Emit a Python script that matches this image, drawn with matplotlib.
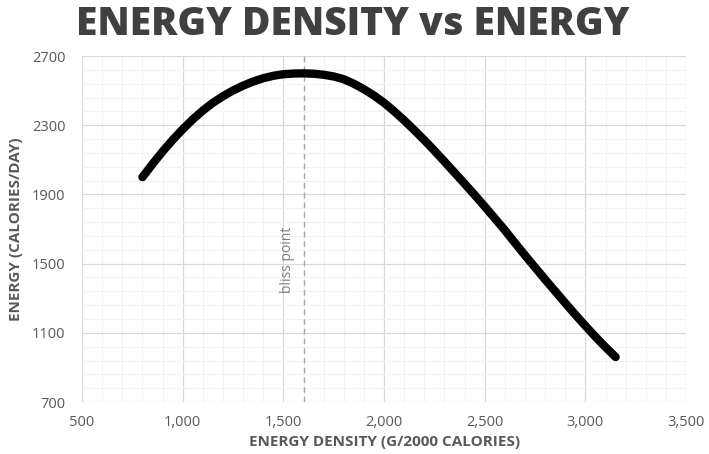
import numpy as np
import matplotlib.pyplot as plt
from matplotlib.ticker import MultipleLocator, FuncFormatter

# values
density = [800, 850, 900, 950, 1000, 1050, 1100, 1150, 1200, 1250, 1300, 1350,
           1400, 1450, 1500, 1550, 1600, 1650, 1700, 1750, 1800, 1850, 1900, 1950,
           2000, 2050, 2100, 2150, 2200, 2250, 2300, 2350, 2400, 2450, 2500, 2550,
           2600, 2650, 2700, 2750, 2800, 2850, 2900, 2950, 3000, 3050, 3100, 3150]
energy = [2000, 2076, 2148, 2215, 2277, 2334, 2385, 2430, 2468, 2501, 2529, 2553,
          2572, 2586, 2595, 2599, 2600, 2598, 2592, 2582, 2566, 2540, 2508, 2472,
          2430, 2381, 2328, 2272, 2214, 2153, 2090, 2026, 1962, 1897, 1830, 1762,
          1693, 1620, 1548, 1478, 1408, 1340, 1272, 1205, 1140, 1077, 1017, 960]
bliss_x = 1600
bliss_label = 'bliss point'
y_ticks = [700, 1100, 1500, 1900, 2300, 2700]

txt = '#595959'
plt.rcParams['font.family'] = ['Open Sans', 'DejaVu Sans']

fig = plt.figure(figsize=(7.09, 4.54), dpi=100)
ax = fig.add_axes([0.1157, 0.1145, 0.852, 0.762])

ax.plot(density, energy, color='black', lw=6, solid_capstyle='round',
        solid_joinstyle='round', zorder=3)
ax.axvline(bliss_x, color='#a6a6a6', lw=1, ls=(0, (4, 3)), zorder=2)
ax.text(bliss_x - 80, 1520, bliss_label, rotation=90, ha='center', va='center',
        color='#808080', fontsize=10)

ax.set_xlim(500, 3500)
ax.set_ylim(700, 2700)
ax.xaxis.set_major_locator(MultipleLocator(500))
ax.xaxis.set_minor_locator(MultipleLocator(100))
ax.set_yticks(y_ticks)
ax.set_yticks(np.arange(700, 2701, 80), minor=True)
ax.xaxis.set_major_formatter(FuncFormatter(lambda v, p: f'{int(v):,}'))
ax.grid(which='major', color='#d9d9d9', lw=0.9)
ax.grid(which='minor', color='#f2f2f2', lw=0.8)
ax.set_axisbelow(True)
for s in ax.spines.values():
    s.set_visible(False)
ax.tick_params(which='both', length=0, colors=txt, labelsize=10.5)
ax.tick_params(axis='x', pad=9)
ax.tick_params(axis='y', pad=12)

ax.set_xlabel('ENERGY DENSITY (G/2000 CALORIES)', color=txt, fontsize=11,
              fontweight='bold', labelpad=4)
ax.set_ylabel('ENERGY (CALORIES/DAY)', color=txt, fontsize=11,
              fontweight='bold', labelpad=6)
fig.text(0.497, 0.945, 'ENERGY DENSITY vs ENERGY', ha='center', va='center',
         color='#404040', fontsize=28, fontweight='heavy')

fig.savefig('out.png', dpi=100)
